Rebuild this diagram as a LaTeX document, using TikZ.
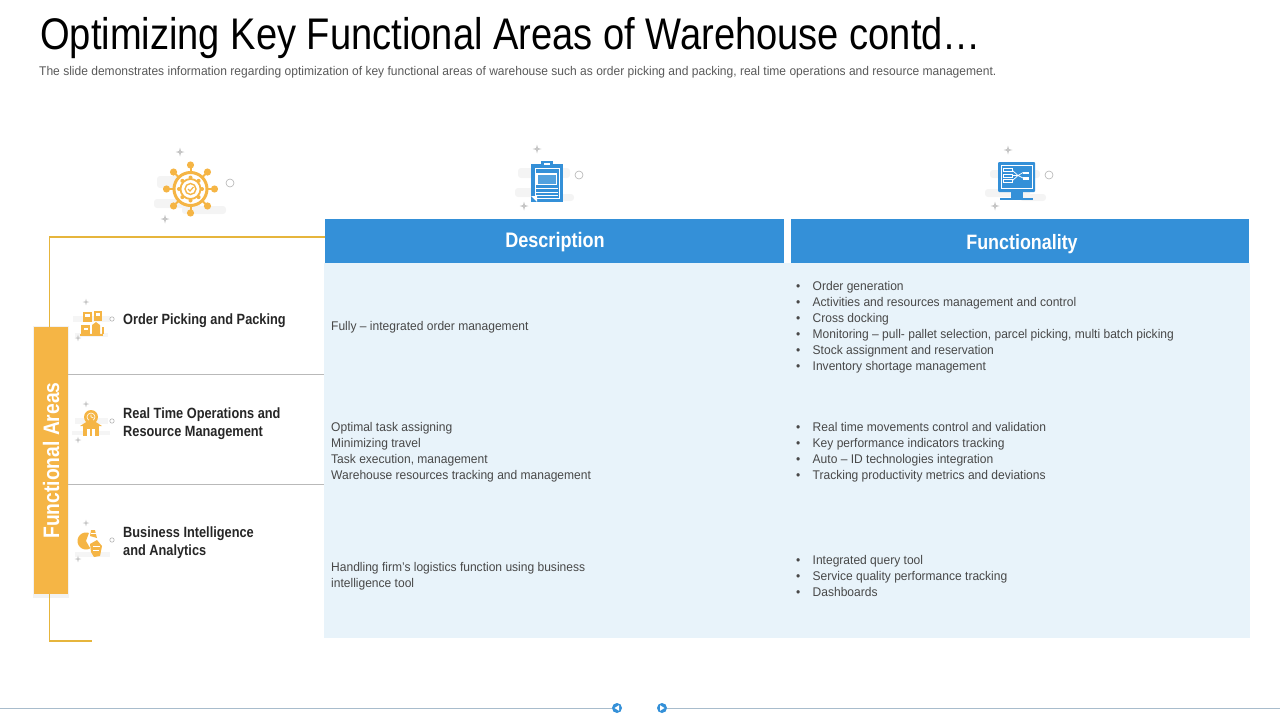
\documentclass[tikz,border=0pt]{standalone}
\usepackage{fontspec}
\setmainfont{Liberation Sans}[FakeStretch=0.86]
\newfontfamily\bodyfont{Liberation Sans}[FakeStretch=0.955]
\definecolor{headblue}{HTML}{3490D8}
\definecolor{paleblue}{HTML}{E8F3FA}
\definecolor{areagold}{HTML}{F5B545}
\definecolor{linegold}{HTML}{E6B53C}
\definecolor{bodygray}{HTML}{484848}
\definecolor{footgray}{HTML}{A8BCCC}
\newcommand{\bl}[1]{\makebox[16.5pt][l]{•}#1}
\tikzset{
    sparkle/.pic={\fill[gray!45] (0,-4.5) -- (1,-1) -- (4.5,0) -- (1,1) -- (0,4.5) -- (-1,1) -- (-4.5,0) -- (-1,-1) -- cycle;},
    ringmark/.pic={\draw[gray!60, line width=0.6pt] (0,0) circle (#1);},
    cloud/.style={fill=gray!9, rounded corners=3pt},
}
\begin{document}
\begin{tikzpicture}[
    x=1pt, y=-1pt,
    bodytext/.style={anchor=west, align=left, inner sep=0pt, text=bodygray, font=\bodyfont\fontsize{12.6}{16}\selectfont},
    rowtitle/.style={anchor=west, align=left, inner sep=0pt, text=black!85, font=\fontsize{14.85}{18}\selectfont\bfseries},
    headbox/.style={fill=headblue, minimum height=44pt, inner sep=0pt},
    goldline/.style={draw=linegold, line width=1.2pt},
    rowline/.style={draw=gray!55, line width=0.6pt},
    navdot/.style={circle, fill=headblue, minimum size=10pt, inner sep=0pt},
    iconblue/.style={fill=headblue},
    icongold/.style={fill=areagold}
]
\useasboundingbox (0,0) rectangle (1280,720);

% Title
\node[anchor=west, inner sep=0pt, font=\fontsize{44.3}{50}\selectfont] (title) at (40,38.5) {Optimizing Key Functional Areas of Warehouse contd…};
\node[anchor=west, inner sep=0pt, text=black!65, font=\bodyfont\fontsize{12.6}{16}\selectfont] (subtitle) at (39,72) {The slide demonstrates information regarding optimization of key functional areas of warehouse such as order picking and packing, real time operations and resource management.};

% Table
\node[fill=paleblue, minimum width=926pt, minimum height=375pt, inner sep=0pt, anchor=north west] (tablebg) at (324,263) {};
\node[headbox, minimum width=459pt, anchor=north west] (deschead) at (325,219) {};
\node[headbox, minimum width=458pt, anchor=north west] (funchead) at (791,219) {};
\node[text=white, inner sep=0pt, font=\fontsize{21}{24}\selectfont\bfseries] (desclabel) at (555,242) {Description};
\node[text=white, inner sep=0pt, font=\fontsize{20.8}{24}\selectfont\bfseries] (funclabel) at (1022,244) {Functionality};

% Side bar with bracket
\coordinate (brackettop) at (325,237);
\coordinate (bracketend) at (92,641);
\fill[gray!10] (32.5,326) rectangle (69,597.5);
\node[fill=areagold, minimum width=34pt, minimum height=267pt, inner sep=0pt] (sidebar) at (50.5,460.5) {};
\node[rotate=90, text=white, inner sep=0pt, font=\fontsize{22.4}{24}\selectfont\bfseries] (sidelabel) at (51,460.5) {Functional Areas};
\draw[goldline] ([xshift=-1pt]sidebar.north) |- (brackettop);
\draw[goldline] ([xshift=-1pt]sidebar.south) |- (bracketend);

% Row lines
\coordinate (rowa) at (68,374);
\coordinate (rowb) at (68,484);
\draw[rowline] (rowa) -- (rowa -| tablebg.west);
\draw[rowline] (rowb) -- (rowb -| tablebg.west);

% Row titles
\node[rowtitle] (order) at (123,321) {Order Picking and Packing};
\node[rowtitle] (realtime) at (123,424) {Real Time Operations and\\Resource Management};
\node[rowtitle] (business) at (123,543) {Business Intelligence\\and Analytics};

% Description column
\node[bodytext] (desca) at (331,327) {Fully – integrated order management};
\node[bodytext] (descb) at (331,452) {Optimal task assigning\\Minimizing travel\\Task execution, management\\Warehouse resources tracking and management};
\node[bodytext] (descc) at (331,576) {Handling firm’s logistics function using business\\intelligence tool};

% Functionality column
\node[bodytext] (funca) at (796,327) {\bl{Order generation}\\\bl{Activities and resources management and control}\\\bl{Cross docking}\\\bl{Monitoring – pull- pallet selection, parcel picking, multi batch picking}\\\bl{Stock assignment and reservation}\\\bl{Inventory shortage management}};
\node[bodytext] (funcb) at (796,452) {\bl{Real time movements control and validation}\\\bl{Key performance indicators tracking}\\\bl{Auto – ID technologies integration}\\\bl{Tracking productivity metrics and deviations}};
\node[bodytext] (funcc) at (796,576) {\bl{Integrated query tool}\\\bl{Service quality performance tracking}\\\bl{Dashboards}};

% Gear icon
\fill[cloud] (157,176) rectangle (205,188);
\fill[cloud] (154,199) rectangle (200,208);
\fill[cloud] (182,206) rectangle (226,214);
\pic at (180,152) {sparkle};
\pic at (165,219) {sparkle};
\pic at (230,183) {ringmark=4};
\foreach \a in {0,45,...,315} {
    \draw[areagold, line width=2pt] (190.5,189) ++(\a:16) -- ++(\a:8);
    \fill[areagold] (190.5,189) ++(\a:24) circle (3.6);
}
\fill[white] (190.5,189) circle (16);
\draw[areagold, line width=3pt] (190.5,189) circle (16.5);
\foreach \a in {0,45,...,315} {
    \fill[areagold] (190.5,189) ++(\a:11.5) circle (2);
}
\draw[areagold, line width=1.8pt] (190.5,189) circle (10);
\fill[white] (190.5,189) circle (7.5);
\draw[areagold, line width=1.4pt] (190.5,189) circle (5.5);
\draw[areagold, line width=1.2pt] (188,189) -- (190,191) -- (193.5,187);

% Clipboard icon
\fill[cloud] (518,168) rectangle (570,178);
\fill[cloud] (515,188) rectangle (560,197);
\fill[cloud] (545,194) rectangle (574,201);
\pic at (537,149) {sparkle};
\pic at (524,206) {sparkle};
\pic at (579,175) {ringmark=4};
\fill[iconblue] (531,164) rectangle (563,202);
\fill[iconblue] (541,161) rectangle (553,167);
\fill[white] (544,163) rectangle (550,165);
\draw[white, line width=0.7pt] (535,168) rectangle (559,198);
\fill[white] (536,173) rectangle (557,185);
\fill[headblue!85] (537.5,174.5) rectangle (555.5,183.5);
\foreach \y in {188,191.5,195} {
    \fill[white] (536,\y) rectangle (558,\y+1);
}
\fill[white] (531,196) -- (537,202) -- (537,196) -- cycle;

% Monitor icon
\fill[cloud] (990,170) rectangle (1040,178);
\fill[cloud] (985,189) rectangle (1030,197);
\fill[cloud] (1020,194) rectangle (1046,201);
\pic at (1008,150) {sparkle};
\pic at (995,206) {sparkle};
\pic at (1049,175) {ringmark=4};
\fill[iconblue, rounded corners=1pt] (998,162) rectangle (1035,192);
\draw[white, line width=0.7pt] (1001,165) rectangle (1032,188.5);
\foreach \y in {170,175.5,181} {
    \draw[white, line width=0.7pt] (1003,\y-1.5) rectangle (1012,\y+1.5);
}
\draw[white, line width=0.7pt] (1012,170) -- (1018,175.5) -- (1012,181) (1012,175.5) -- (1018,175.5) -- (1023,172.5) (1018,175.5) -- (1023,178);
\fill[white] (1023,171.5) rectangle (1029,174);
\fill[white] (1023,177) rectangle (1029,179.5);
\fill[iconblue] (1011,192) rectangle (1023,198);
\fill[iconblue] (1000,198) rectangle (1033,199.5);

% Order picking icon
\fill[gray!8] (73,316) rectangle (110,322);
\fill[gray!8] (75,333) rectangle (108,337);
\pic[scale=0.75] at (86,302) {sparkle};
\pic[scale=0.75] at (78,338) {sparkle};
\pic at (112,319) {ringmark=2.2};
\fill[icongold] (83,312) rectangle (92,322);
\fill[icongold] (94,311) rectangle (102,321);
\fill[white] (85,314) rectangle (90,317);
\fill[white] (96,313) rectangle (100,316);
\fill[icongold] (81,325) rectangle (90,334);
\fill[icongold] (92,325) -- (96,322) -- (100,325) -- (100,334) -- (92,334) -- cycle;
\fill[icongold] (102,327) rectangle (104,334);
\fill[white] (84,328) rectangle (88,330);
\fill[icongold] (80,334) rectangle (103,336);

% Real time icon
\fill[gray!8] (75,418) rectangle (108,424);
\fill[gray!8] (72,431) rectangle (110,435);
\pic[scale=0.75] at (86,404) {sparkle};
\pic[scale=0.75] at (78,440) {sparkle};
\pic at (112,421) {ringmark=2.2};
\fill[icongold] (91,417) circle (7);
\draw[white, line width=0.6pt] (91,417) circle (4);
\draw[white, line width=0.6pt] (91,414.5) -- (91,417) -- (93.5,418);
\fill[icongold] (80,426) -- (91,419) -- (102,426) -- cycle;
\fill[icongold] (83,426) rectangle (99,436);
\fill[white] (87,429) rectangle (95,436);
\fill[icongold] (90.4,429) rectangle (91.6,436);

% Business icon
\fill[gray!8] (75,552) rectangle (110,557);
\pic[scale=0.75] at (86,523) {sparkle};
\pic[scale=0.75] at (78,559) {sparkle};
\pic at (112,540) {ringmark=2.2};
\fill[icongold] (86,541) -- plot[domain=-70:-300, samples=24] ({86+8.5*cos(\x)},{541+8.5*sin(\x)}) -- cycle;
\fill[icongold] (91,530) -- (95,530) -- (97,538) -- (90,536) -- cycle;
\draw[white, line width=0.5pt] (90.5,533) -- (96,533);
\fill[icongold] (90,544) -- (97,540) -- (102,546) -- (100,556) -- (94,557) -- (91,552) -- cycle;
\draw[white, line width=0.5pt] (93,546) -- (100,546) (93,550) -- (99,550);

% Footer
\node[navdot] (navprev) at (617,708) {};
\node[navdot] (navnext) at (662,708) {};
\coordinate (footleft) at (0,708);
\coordinate (footright) at (1280,708);
\draw[footgray, line width=1pt] (footleft) -- (navprev);
\draw[footgray, line width=1pt] (navnext) -- (footright);
\fill[white] (614.5,708) -- (619,705.2) -- (619,710.8) -- cycle;
\fill[white] (664.5,708) -- (660,705.2) -- (660,710.8) -- cycle;
\end{tikzpicture}
\end{document}
